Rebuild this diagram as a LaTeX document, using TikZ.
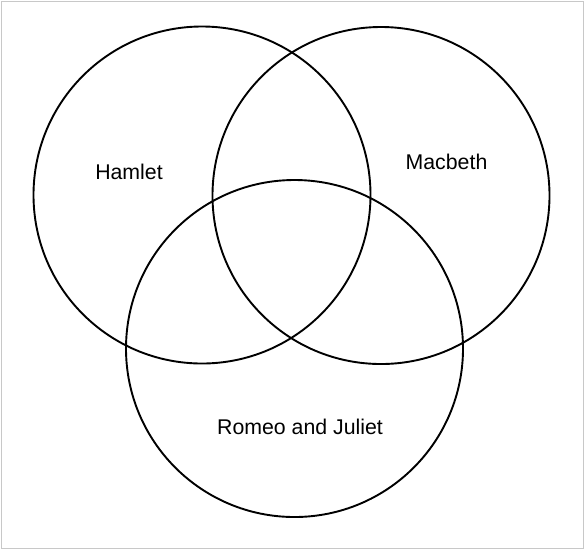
\documentclass[tikz,border=0pt]{standalone}
\usepackage{fontspec}
\setmainfont{Liberation Sans}
\usepackage{tikz}
\usetikzlibrary{positioning}
\usepackage{xcolor}
\definecolor{framegray}{RGB}{200,200,200}

\begin{document}
\begin{tikzpicture}[x=1pt,y=-1pt,
  play/.style={circle,draw,line width=1.9pt,minimum size=337pt,inner sep=0pt},
  title/.style={anchor=base,inner sep=0pt,font=\fontsize{21.3}{25}\selectfont}]
\useasboundingbox (0,0) rectangle (585,550);
\draw [framegray,line width=1pt] (1,1) rectangle (583.5,548.5);
\node (hamlet) at (202,195) [play] {};
\node (macbeth) at (381,195.5) [play] {};
\node (romeo) at (294.5,348.5) [play] {};
\node (hamlettext) at (129,179) [title] {Hamlet};
\node (macbethtext) at (446.5,169) [title] {Macbeth};
\node (romeotext) at (300,434) [title] {Romeo and Juliet};
\end{tikzpicture}
\end{document}
